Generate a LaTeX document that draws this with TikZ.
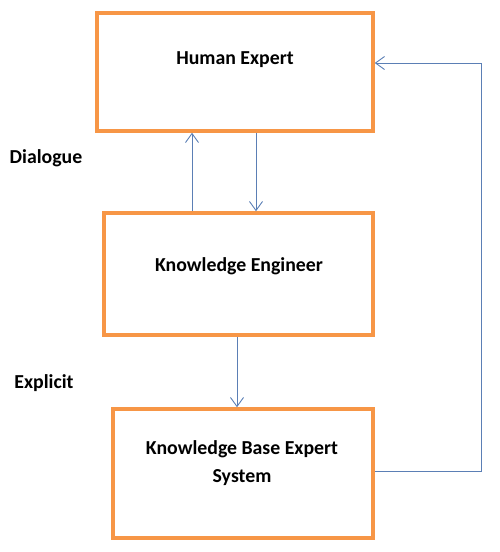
\documentclass[tikz,border=0pt]{standalone}
\usepackage{fontspec}
\setmainfont{Carlito}
\usetikzlibrary{arrows.meta}
\definecolor{boxorange}{HTML}{F79646}
\definecolor{linkblue}{HTML}{5B7FB5}
\tikzset{
  box/.style={draw=boxorange, line width=3.5pt, fill=white, rectangle, inner sep=0pt},
  lbl/.style={font=\fontsize{19.8}{28}\selectfont\bfseries, align=center, text=black, inner sep=0pt},
  arr/.style={draw=linkblue, line width=0.9pt, -{Straight Barb[length=9pt,width=13pt,line width=0.9pt]}},
}
\begin{document}
\begin{tikzpicture}[x=1pt,y=-1pt]
\useasboundingbox (0,0) rectangle (500,552);
\node[box, minimum width=276pt, minimum height=118pt] (HE) at (235,72) {};
\node[box, minimum width=269pt, minimum height=122pt] (KE) at (238.5,274) {};
\node[box, minimum width=260pt, minimum height=129pt] (KB) at (243,473.5) {};
\node[lbl] (tHE) at (235,60) {Human Expert};
\node[lbl] (tKE) at (239,266) {Knowledge Engineer};
\node[lbl] (tKB) at (242,463) {Knowledge Base Expert\\System};
\node[lbl] (tDia) at (46,158) {Dialogue};
\node[lbl] (tExp) at (44,383) {Explicit};
\draw[arr] (192,0 |- KE.north) -- (192,0 |- HE.south);
\draw[arr] (256,0 |- HE.south) -- (256,0 |- KE.north);
\draw[arr] (237,0 |- KE.south) -- (237,0 |- KB.north);
\coordinate (c1) at (481,471);
\coordinate (c2) at (481,63);
\draw[arr] (KB.east |- c1) -- (c1) -- (c2) -- (HE.east |- c2);
\end{tikzpicture}
\end{document}
